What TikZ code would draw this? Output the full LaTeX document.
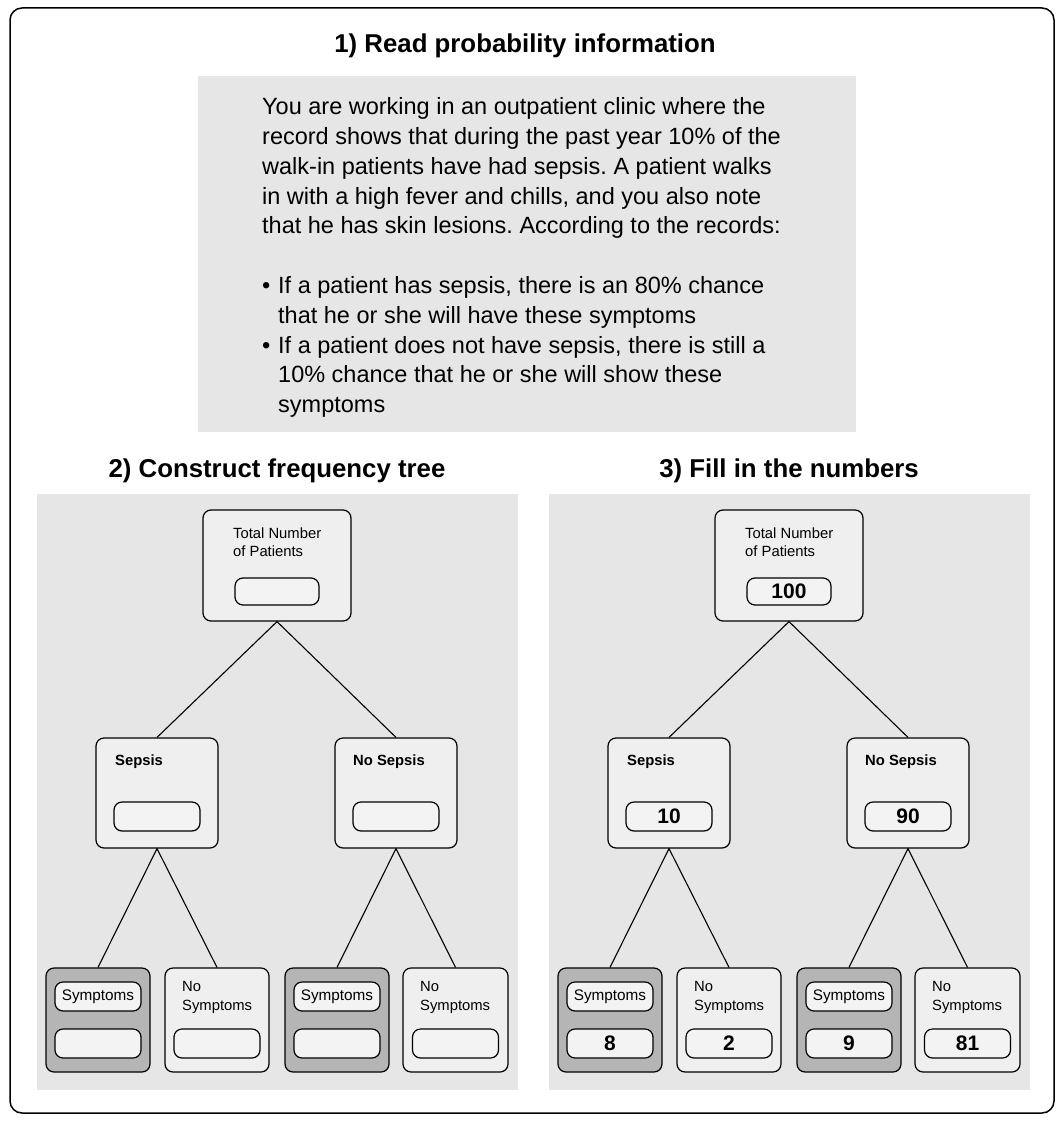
\documentclass[tikz,border=0pt]{standalone}
\usepackage{fontspec}
\setmainfont{Liberation Sans}
\frenchspacing
\definecolor{panelgray}{HTML}{E6E6E6}
\definecolor{boxgray}{HTML}{EFEFEF}
\definecolor{pillgray}{HTML}{F3F3F3}
\definecolor{darkbox}{HTML}{B5B5B5}
\tikzset{
  panel/.style={fill=panelgray, draw=none},
  treebox/.style={draw, line width=1.2pt, rounded corners=8pt, fill=boxgray, inner sep=0pt},
  darkleaf/.style={treebox, fill=darkbox, minimum width=104pt, minimum height=104pt},
  lightleaf/.style={treebox, minimum width=104pt, minimum height=104pt},
  pill/.style={draw, line width=1.2pt, rounded corners=8pt, fill=pillgray, minimum width=86pt, minimum height=29pt, inner sep=0pt, font=\fontsize{21}{24}\selectfont\bfseries},
  lblpill/.style={pill, font=\fontsize{15.3}{17}\selectfont},
  lbl/.style={inner sep=0pt, align=left, font=\fontsize{14.8}{18.5}\selectfont},
  blbl/.style={inner sep=0pt, align=left, font=\fontsize{14.8}{18.5}\selectfont\bfseries},
  heading/.style={inner sep=0pt, font=\fontsize{25.8}{30}\selectfont\bfseries},
  conn/.style={line width=1.1pt}
}
\newcommand{\freqtree}[9]{%
\begin{scope}[xshift=#2]
  \fill[panelgray] (37,494) rectangle (518,1090);
  \node[treebox, minimum width=148pt, minimum height=111pt] (#1top) at (277,565.5) {};
  \node[lbl, anchor=north west] (#1toplbl) at (233,527.5) {Total Number\\of Patients};
  \node[pill, minimum width=84pt, minimum height=27pt] (#1topval) at (277,591.5) {#3};
  \node[treebox, minimum width=122pt, minimum height=110pt] (#1sep) at (157,793) {};
  \node[blbl, anchor=base west] (#1seplbl) at (115,765) {Sepsis};
  \node[pill] (#1sepval) at (157,816.5) {#4};
  \node[treebox, minimum width=122pt, minimum height=110pt] (#1nos) at (396,793) {};
  \node[blbl, anchor=base west] (#1noslbl) at (353,765) {No Sepsis};
  \node[pill] (#1nosval) at (396,816.5) {#5};
  \node[darkleaf] (#1l1) at (98,1020) {};
  \node[lblpill] (#1l1lbl) at (98,996.5) {Symptoms};
  \node[pill] (#1l1val) at (98,1043.5) {#6};
  \node[lightleaf] (#1l2) at (217,1020) {};
  \node[lbl, anchor=north west] (#1l2lbl) at (182,981.5) {No\\Symptoms};
  \node[pill] (#1l2val) at (217,1043.5) {#7};
  \node[darkleaf] (#1l3) at (337,1020) {};
  \node[lblpill] (#1l3lbl) at (337,996.5) {Symptoms};
  \node[pill] (#1l3val) at (337,1043.5) {#8};
  \node[lightleaf, minimum width=105pt] (#1l4) at (455.5,1020) {};
  \node[lbl, anchor=north west] (#1l4lbl) at (420,981.5) {No\\Symptoms};
  \node[pill] (#1l4val) at (455.5,1043.5) {#9};
  \draw[conn] (#1top.south) -- (#1sep.north);
  \draw[conn] (#1top.south) -- (#1nos.north);
  \draw[conn] (#1sep.south) -- (#1l1.north);
  \draw[conn] (#1sep.south) -- (#1l2.north);
  \draw[conn] (#1nos.south) -- (#1l3.north);
  \draw[conn] (#1nos.south) -- (#1l4.north);
\end{scope}}
\begin{document}
\begin{tikzpicture}[x=1pt,y=-1pt]
  \useasboundingbox (0,0) rectangle (1064,1121);
  \fill[white] (0,0) rectangle (1064,1121);
  \draw[line width=1.5pt, rounded corners=12pt] (10,8) rectangle (1054,1113);
  \node[heading] (h1) at (525,46) {1) Read probability information};
  \fill[panelgray] (198,76) rectangle (856,432);
  \node[inner sep=0pt, anchor=north west, align=left, font=\fontsize{23.5}{29.8}\selectfont] (info) at (262,97.5)
  {You are working in an outpatient clinic where the\\
   record shows that during the past year 10\% of the\\
   walk-in patients have had sepsis. A patient walks\\
   in with a high fever and chills, and you also note\\
   that he has skin lesions. According to the records:\\[29.8pt]
   \makebox[16pt][l]{•}If a patient has sepsis, there is an 80\% chance\\
   \hspace*{16pt}that he or she will have these symptoms\\
   \makebox[16pt][l]{•}If a patient does not have sepsis, there is still a\\
   \hspace*{16pt}10\% chance that he or she will show these\\
   \hspace*{16pt}symptoms};
  \node[heading] (h2) at (277,471) {2) Construct frequency tree};
  \node[heading] (h3) at (789,471) {3) Fill in the numbers};
  \freqtree{a}{0pt}{}{}{}{}{}{}{}
  \freqtree{b}{512pt}{100}{10}{90}{8}{2}{9}{81}
\end{tikzpicture}
\end{document}
